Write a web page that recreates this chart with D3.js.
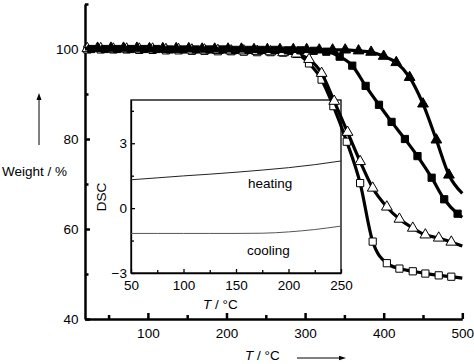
<!DOCTYPE html>
<html><head><meta charset="utf-8">
<script src="https://cdn.jsdelivr.net/npm/d3@7"></script>
<style>
html,body{margin:0;padding:0;background:#fff;}
svg{display:block;font-family:"Liberation Sans",Arial,sans-serif;}
</style></head>
<body>
<svg id="c" width="474" height="364"></svg>
<script>
// ---- Main TGA data (T in °C, weight in %) ----
const openSqT  = [20, 23, 40, 56, 73, 89, 106, 123, 139, 156, 172, 189, 206, 222, 239, 256, 272, 289, 305, 321, 336, 353, 370, 386, 404, 420, 437, 453, 470, 486, 500];
const openSqW  = [99.9, 99.9, 99.9, 99.9, 99.9, 99.8, 99.8, 99.7, 99.7, 99.6, 99.6, 99.5, 99.5, 99.4, 99.3, 99.3, 99.2, 98.9, 96.8, 93.2, 87.3, 79.4, 70.2, 57.2, 52.4, 51.2, 50.6, 50.1, 49.7, 49.4, 49.1];
const openTriT = [20, 23, 40, 56, 73, 89, 106, 123, 139, 156, 172, 189, 206, 222, 239, 256, 272, 289, 305, 321, 337, 354, 370, 386, 404, 420, 437, 453, 470, 486, 500];
const openTriW = [100.1, 100.1, 100.1, 100.0, 100.0, 100.0, 100.0, 99.9, 99.9, 99.8, 99.8, 99.7, 99.6, 99.6, 99.5, 99.4, 99.2, 98.9, 97.7, 94.6, 88.4, 81.5, 75.0, 69.1, 64.9, 62.2, 60.2, 58.7, 58.0, 57.1, 56.2];
const fillSqT  = [20, 28, 45, 61, 78, 95, 111, 128, 145, 161, 178, 195, 211, 228, 244, 261, 278, 294, 311, 327, 344, 360, 377, 394, 410, 427, 443, 461, 477, 494, 500];
const fillSqW  = [100.0, 100.0, 100.0, 100.0, 100.0, 100.0, 100.0, 99.9, 99.9, 99.9, 99.9, 99.9, 99.8, 99.8, 99.8, 99.8, 99.7, 99.7, 99.6, 99.4, 98.3, 96.3, 91.8, 87.6, 83.8, 80.0, 76.2, 71.4, 66.6, 63.4, 62.6];
const fillTriT = [20, 36, 53, 69, 86, 102, 119, 136, 152, 169, 185, 202, 219, 235, 252, 268, 285, 302, 318, 335, 351, 368, 384, 400, 416, 433, 450, 467, 483, 500];
const fillTriW = [100.2, 100.2, 100.2, 100.2, 100.2, 100.1, 100.1, 100.1, 100.1, 100.0, 100.0, 100.0, 100.0, 99.9, 99.9, 99.9, 99.9, 99.9, 99.8, 99.8, 99.8, 99.6, 99.3, 98.4, 97.0, 93.7, 87.8, 79.8, 72.0, 67.9];

// ---- Inset DSC data ----
const dscT       = [50, 75, 100, 125, 150, 175, 200, 225, 250];
const heatingDSC = [1.31, 1.40, 1.49, 1.57, 1.66, 1.76, 1.87, 2.01, 2.18];
const coolingDSC = [-1.17, -1.17, -1.17, -1.17, -1.17, -1.16, -1.10, -0.99, -0.83];

// ---- Ticks ----
const xMajor = [100, 200, 300, 400, 500], xMinor = [50, 150, 250, 350, 450];
const yMajor = [40, 60, 80, 100], yMinor = [50, 70, 90, 110];
const ixMajor = [50, 100, 150, 200, 250], ixMinor = [75, 125, 175, 225];
const iyMajor = [-3, 0, 3], iyMinor = [-1.5, 1.5, 4.5];

const svg = d3.select("#c");
const FS = 13.5;

const x = d3.scaleLinear([20, 500], [85, 462.3]);
const y = d3.scaleLinear([40, 110], [319, 4]);
const xi = d3.scaleLinear([50, 250], [131, 341]);
const yi = d3.scaleLinear([-3, 5], [273, 100]);

function styleAxis(g, w) {
  g.select(".domain").attr("stroke", "#000").attr("stroke-width", w);
  g.selectAll(".tick line").attr("stroke", "#000").attr("stroke-width", w);
  g.selectAll("text").attr("font-size", FS).attr("fill", "#000").attr("font-family", "Liberation Sans, Arial, sans-serif");
}

// ---- main axes ----
const gx = svg.append("g").attr("transform", "translate(0,319)")
  .call(d3.axisBottom(x).tickValues(xMajor).tickSizeInner(-6).tickSizeOuter(0).tickPadding(9.5));
styleAxis(gx, 2.5);
const gxm = svg.append("g").attr("transform", "translate(0,319)")
  .call(d3.axisBottom(x).tickValues(xMinor).tickSizeInner(-4).tickSizeOuter(0).tickFormat(""));
styleAxis(gxm, 2.5); gxm.select(".domain").remove();

const gy = svg.append("g").attr("transform", "translate(85,0)")
  .call(d3.axisLeft(y).tickValues(yMajor).tickSizeInner(-5).tickSizeOuter(0).tickPadding(6.5));
styleAxis(gy, 2.5);
const gym = svg.append("g").attr("transform", "translate(85,0)")
  .call(d3.axisLeft(y).tickValues(yMinor).tickSizeInner(-3.5).tickSizeOuter(0).tickFormat(""));
styleAxis(gym, 2.5); gym.select(".domain").remove();

// axis titles
svg.append("text").attr("x", 2).attr("y", 176).attr("font-size", FS).text("Weight / %");
svg.append("line").attr("x1", 39).attr("x2", 39).attr("y1", 145).attr("y2", 98).attr("stroke", "#000").attr("stroke-width", 1);
svg.append("path").attr("d", "M39,93 L36.5,100 L41.5,100 Z").attr("fill", "#000");

const tt = svg.append("text").attr("x", 245).attr("y", 360).attr("font-size", FS);
tt.append("tspan").attr("font-style", "italic").text("T");
tt.append("tspan").text(" / °C");
svg.append("line").attr("x1", 297).attr("x2", 340).attr("y1", 358).attr("y2", 358).attr("stroke", "#000").attr("stroke-width", 1);
svg.append("path").attr("d", "M346,358 L339,355.7 L339,360.3 Z").attr("fill", "#000");

// ---- inset ----
const ins = svg.append("g");
ins.append("rect").attr("x", 131).attr("y", 100).attr("width", 210).attr("height", 173)
  .attr("fill", "#fff").attr("stroke", "#000").attr("stroke-width", 1.3);
const gix = ins.append("g").attr("transform", "translate(0,273)")
  .call(d3.axisBottom(xi).tickValues(ixMajor).tickSizeInner(-4).tickSizeOuter(0).tickPadding(7));
styleAxis(gix, 1.3);
const gixm = ins.append("g").attr("transform", "translate(0,273)")
  .call(d3.axisBottom(xi).tickValues(ixMinor).tickSizeInner(-3).tickSizeOuter(0).tickFormat(""));
styleAxis(gixm, 1.3); gixm.select(".domain").remove();
const giy = ins.append("g").attr("transform", "translate(131,0)")
  .call(d3.axisLeft(yi).tickValues(iyMajor).tickSizeInner(-4).tickSizeOuter(0).tickPadding(4));
styleAxis(giy, 1.3);
const giym = ins.append("g").attr("transform", "translate(131,0)")
  .call(d3.axisLeft(yi).tickValues(iyMinor).tickSizeInner(-3).tickSizeOuter(0).tickFormat(""));
styleAxis(giym, 1.3); giym.select(".domain").remove();

const dline = d3.line().x(d => xi(d[0])).y(d => yi(d[1])).curve(d3.curveMonotoneX);
ins.append("path").attr("d", dline(dscT.map((t, i) => [t, heatingDSC[i]])))
  .attr("fill", "none").attr("stroke", "#222").attr("stroke-width", 1);
ins.append("path").attr("d", dline(dscT.map((t, i) => [t, coolingDSC[i]])))
  .attr("fill", "none").attr("stroke", "#555").attr("stroke-width", 1);
ins.append("text").attr("x", 248).attr("y", 188).attr("font-size", FS).text("heating");
ins.append("text").attr("x", 247).attr("y", 255).attr("font-size", FS).text("cooling");
ins.append("text").attr("transform", "translate(106,197) rotate(-90)").attr("text-anchor", "middle").attr("font-size", FS).text("DSC");
const it = ins.append("text").attr("x", 203).attr("y", 308.5).attr("font-size", FS);
it.append("tspan").attr("font-style", "italic").text("T");
it.append("tspan").text(" / °C");

// ---- TGA curves ----
const line = d3.line().x(d => x(d[0])).y(d => y(d[1])).curve(d3.curveMonotoneX);
const series = [
  {T: openSqT,  W: openSqW,  sym: d3.symbolSquare,   size: 52, fill: "#fff"},
  {T: openTriT, W: openTriW, sym: d3.symbolTriangle, size: 50, fill: "#fff"},
  {T: fillSqT,  W: fillSqW,  sym: d3.symbolSquare,   size: 52, fill: "#000"},
  {T: fillTriT, W: fillTriW, sym: d3.symbolTriangle, size: 50, fill: "#000"}
];
series.forEach(s => {
  const pts = s.T.map((t, i) => [t, s.W[i]]);
  svg.append("path").attr("d", line(pts)).attr("fill", "none").attr("stroke", "#000")
    .attr("stroke-width", 3.2).attr("stroke-linejoin", "round");
  const mk = pts.filter(p => p[0] > 20 && p[0] < 500);
  svg.append("g").selectAll("path").data(mk).join("path")
    .attr("transform", d => `translate(${x(d[0])},${y(d[1])})`)
    .attr("d", d3.symbol(s.sym, s.size))
    .attr("fill", s.fill).attr("stroke", "#000").attr("stroke-width", 1);
});
</script>
</body></html>
